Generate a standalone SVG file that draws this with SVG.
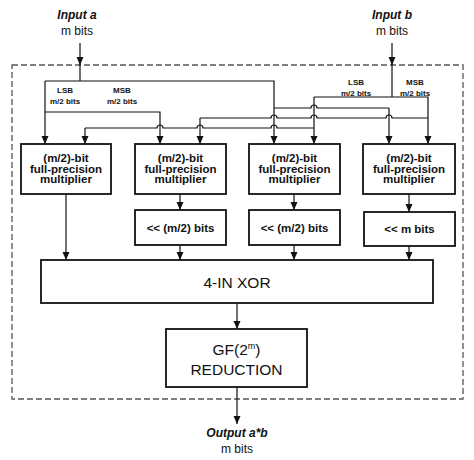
<svg xmlns="http://www.w3.org/2000/svg" width="474" height="460" viewBox="0 0 474 460">
<defs>
<marker id="ah" markerUnits="userSpaceOnUse" markerWidth="8" markerHeight="8" refX="8" refY="3.5" orient="auto">
<path d="M0,0 L8,3.5 L0,7 z" fill="#111"/>
</marker>
<style>
.box{fill:#fff;stroke:#111;stroke-width:1.8}
.ln{fill:none;stroke:#111;stroke-width:1.2}
.arr{fill:none;stroke:#111;stroke-width:1.2;marker-end:url(#ah)}
.io{font-family:"Liberation Sans",Arial,sans-serif;font-size:12px;fill:#111;text-anchor:middle}
.ioi{font-weight:bold;font-style:italic}
.sm{font-family:"Liberation Sans",Arial,sans-serif;font-size:8px;font-weight:bold;fill:#111;text-anchor:middle}
.mul{font-family:"Liberation Sans",Arial,sans-serif;font-size:11.5px;font-weight:bold;fill:#111;text-anchor:middle}
.big{font-family:"Liberation Sans",Arial,sans-serif;font-size:15.5px;fill:#111;text-anchor:middle}
</style>
</defs>
<rect x="12" y="65" width="451" height="334" fill="none" stroke="#555" stroke-width="1.3" stroke-dasharray="6,3"/>
<g id="labels">
<text class="io ioi" x="77" y="19">Input a</text>
<text class="io" x="77" y="35">m bits</text>
<text class="io ioi" x="392" y="19">Input b</text>
<text class="io" x="392" y="35">m bits</text>
<text class="sm" x="65" y="93">LSB</text>
<text class="sm" x="65" y="104">m/2 bits</text>
<text class="sm" x="122" y="93">MSB</text>
<text class="sm" x="122" y="104">m/2 bits</text>
<text class="sm" x="356" y="85">LSB</text>
<text class="sm" x="356" y="96">m/2 bits</text>
<text class="sm" x="415" y="85">MSB</text>
<text class="sm" x="415" y="96">m/2 bits</text>
<text class="io ioi" x="237" y="437">Output a*b</text>
<text class="io" x="237" y="453">m bits</text>
</g>
<g id="connectors">
<path class="arr" d="M80 43 V65"/>
<path class="ln" d="M80 64 V81"/>
<path class="arr" d="M392 43 V65"/>
<path class="ln" d="M392 64 V97"/>
<path class="arr" d="M45 81 V144"/>
<path class="arr" d="M45 81 H274 V144"/>
<path class="arr" d="M45 112 H160 V144"/>
<path class="ln" d="M274 108 H311 a3 3 0 0 1 6 0 H389"/>
<path class="arr" d="M389 108 V144"/>
<path class="arr" d="M314 97 H428 V144"/>
<path class="arr" d="M314 97 V144"/>
<path class="ln" d="M200 118 H271 a3 3 0 0 1 6 0 H311 a3 3 0 0 1 6 0 H386 a3 3 0 0 1 6 0 H428"/>
<path class="arr" d="M200 118 V144"/>
<path class="ln" d="M85 128 H157 a3 3 0 0 1 6 0 H197 a3 3 0 0 1 6 0 H271 a3 3 0 0 1 6 0 H314"/>
<path class="arr" d="M85 128 V144"/>
<path class="arr" d="M66 194 V260"/>
<path class="arr" d="M180 194 V210"/>
<path class="arr" d="M180 245 V260"/>
<path class="arr" d="M294 194 V210"/>
<path class="arr" d="M294 245 V260"/>
<path class="arr" d="M409 194 V212"/>
<path class="arr" d="M409 246 V260"/>
<path class="arr" d="M237 303 V329"/>
<path class="arr" d="M237 387 V424"/>
</g>
<g id="mult1">
<rect class="box" x="21" y="144" width="90" height="50"/>
<text class="mul" x="66" y="162">(m/2)-bit</text>
<text class="mul" x="66" y="172.5">full-precision</text>
<text class="mul" x="66" y="183">multiplier</text>
</g>
<g id="mult2">
<rect class="box" x="135" y="144" width="91" height="50"/>
<text class="mul" x="180.5" y="162">(m/2)-bit</text>
<text class="mul" x="180.5" y="172.5">full-precision</text>
<text class="mul" x="180.5" y="183">multiplier</text>
</g>
<g id="mult3">
<rect class="box" x="249" y="144" width="91" height="50"/>
<text class="mul" x="294.5" y="162">(m/2)-bit</text>
<text class="mul" x="294.5" y="172.5">full-precision</text>
<text class="mul" x="294.5" y="183">multiplier</text>
</g>
<g id="mult4">
<rect class="box" x="363" y="144" width="92" height="50"/>
<text class="mul" x="409" y="162">(m/2)-bit</text>
<text class="mul" x="409" y="172.5">full-precision</text>
<text class="mul" x="409" y="183">multiplier</text>
</g>
<g id="shift2">
<rect class="box" x="135" y="210" width="91" height="35"/>
<text class="mul" x="180.5" y="232">&lt;&lt; (m/2) bits</text>
</g>
<g id="shift3">
<rect class="box" x="249" y="210" width="91" height="35"/>
<text class="mul" x="294.5" y="232">&lt;&lt; (m/2) bits</text>
</g>
<g id="shift4">
<rect class="box" x="364" y="212" width="91" height="34"/>
<text class="mul" x="409.5" y="233">&lt;&lt; m bits</text>
</g>
<g id="xor">
<rect class="box" x="41" y="260" width="392" height="43"/>
<text class="big" x="237" y="288">4-IN XOR</text>
</g>
<g id="gf">
<rect class="box" x="166" y="329" width="141" height="58"/>
<text class="big" x="236.5" y="355">GF(2<tspan font-size="9px" dy="-6">m</tspan><tspan dy="6">)</tspan></text>
<text class="big" x="236.5" y="375">REDUCTION</text>
</g>
</svg>
